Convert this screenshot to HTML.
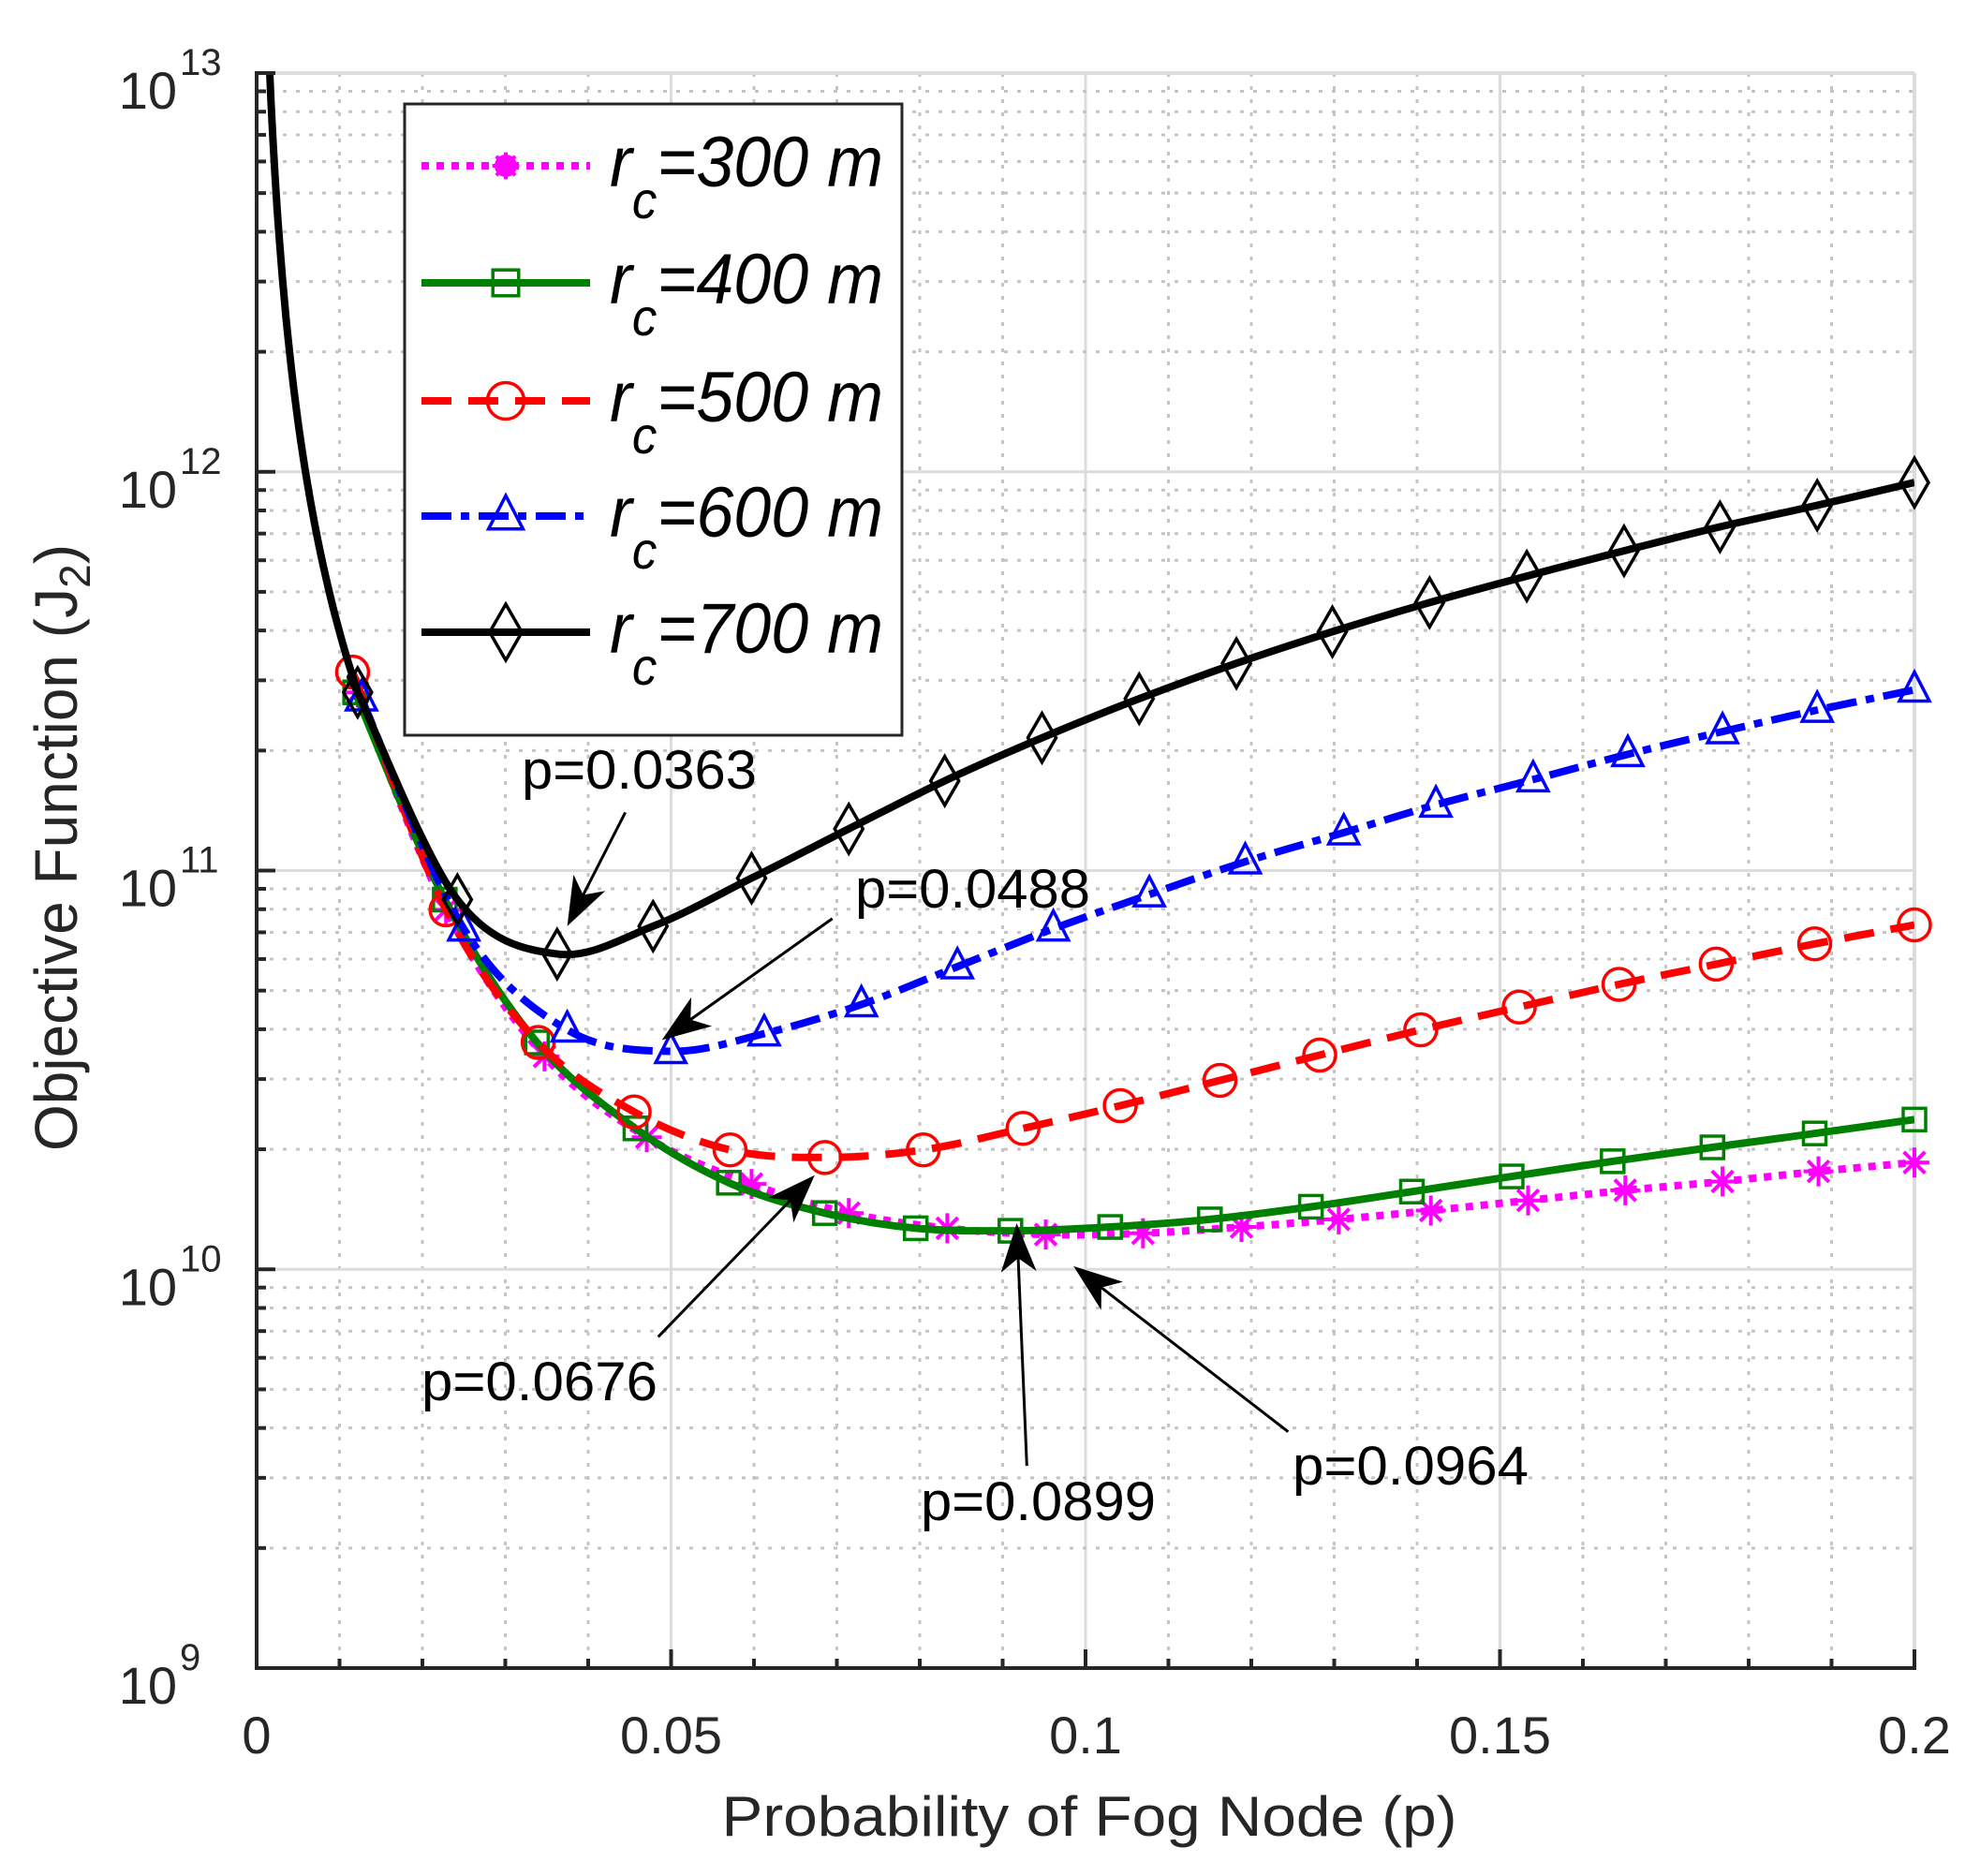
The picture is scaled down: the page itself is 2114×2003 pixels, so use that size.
<!DOCTYPE html>
<html><head><meta charset="utf-8">
<style>html,body{margin:0;padding:0;background:#fff;}svg{display:block;}</style>
</head><body>
<svg id="s" width="2114" height="2003" viewBox="0 0 2114 2003" xmlns="http://www.w3.org/2000/svg" font-family="Liberation Sans, Arial, sans-serif">
<rect width="2114" height="2003" fill="#fff"/>
<g id="grid"></g>
<g id="series"></g>
<g id="axes"></g>
<g id="annot" fill="#000" font-size="58">
<text x="557" y="842" textLength="251" lengthAdjust="spacingAndGlyphs">p=0.0363</text>
<text x="913" y="969" textLength="251" lengthAdjust="spacingAndGlyphs">p=0.0488</text>
<text x="450" y="1495" textLength="252" lengthAdjust="spacingAndGlyphs">p=0.0676</text>
<text x="983" y="1623" textLength="251" lengthAdjust="spacingAndGlyphs">p=0.0899</text>
<text x="1380" y="1585" textLength="252" lengthAdjust="spacingAndGlyphs">p=0.0964</text>
</g>
<g id="legend"></g>
</svg>
<script>
const NS="http://www.w3.org/2000/svg";
const L=274,R=2044,Tp=78,B=1781;
const dec=(B-Tp)/4;
function T(x,y){return [274+(x-203)*1770/1313, 78+(y-58)*1703/1262];}
function el(par,tag,attrs){const e=document.createElementNS(NS,tag);for(const k in attrs)e.setAttribute(k,attrs[k]);document.getElementById(par).appendChild(e);return e;}
function px(p){return L+p/0.2*(R-L);}
function py(lg){return Tp+(13-lg)*dec;}
for(let i=1;i<20;i++){const x=px(i*0.01);if(i%5==0)el('grid','line',{x1:x,x2:x,y1:Tp,y2:B,stroke:'#dcdcdc','stroke-width':3});else el('grid','line',{x1:x,x2:x,y1:Tp,y2:B,stroke:'#c4c4c4','stroke-width':3,'stroke-dasharray':'4 10'});}
for(let d=9;d<13;d++){for(let m=2;m<=9;m++){const y=py(d+Math.log10(m));el('grid','line',{x1:L,x2:R,y1:y,y2:y,stroke:'#c4c4c4','stroke-width':3,'stroke-dasharray':'4 10'});}
 if(d>9){const y=py(d);el('grid','line',{x1:L,x2:R,y1:y,y2:y,stroke:'#dcdcdc','stroke-width':3});}}
el('grid','line',{x1:L,x2:R,y1:Tp,y2:Tp,stroke:'#dcdcdc','stroke-width':4});
el('grid','line',{x1:R,x2:R,y1:Tp,y2:B,stroke:'#dcdcdc','stroke-width':4});
el('axes','line',{x1:L,x2:L,y1:Tp-2,y2:B+2,stroke:'#262626','stroke-width':4});
el('axes','line',{x1:L-2,x2:R+2,y1:B,y2:B,stroke:'#262626','stroke-width':4});
for(let i=1;i<=20;i++){const x=px(i*0.01);const len=(i%5==0)?20:10;el('axes','line',{x1:x,x2:x,y1:B,y2:B-len,stroke:'#262626','stroke-width':4});}
for(let d=9;d<13;d++){for(let m=1;m<=9;m++){const y=py(d+Math.log10(m));const len=m==1?20:10;if(m==1&&d==9)continue;el('axes','line',{x1:L,x2:L+len,y1:y,y2:y,stroke:'#262626','stroke-width':4});}}
el('axes','line',{x1:L,x2:L+20,y1:Tp,y2:Tp,stroke:'#262626','stroke-width':4});
const xl=[["0",0],["0.05",0.05],["0.1",0.1],["0.15",0.15],["0.2",0.2]];
xl.forEach(a=>{const t=el('axes','text',{x:px(a[1]),y:1872,'text-anchor':'middle','font-size':56,fill:'#262626'});t.textContent=a[0];});
for(let d=9;d<=13;d++){const y=py(d);const t=el('axes','text',{x:189,y:y+38,'text-anchor':'end','font-size':56,fill:'#262626'});t.textContent="10";
 const s=el('axes','text',{x:192,y:y+2,'text-anchor':'start','font-size':40,fill:'#262626'});s.textContent=String(d);}
{const t=el('axes','text',{x:1163,y:1960,'text-anchor':'middle','font-size':60,fill:'#262626',textLength:785,lengthAdjust:'spacingAndGlyphs'});t.textContent="Probability of Fog Node (p)";}
{const g=el('axes','g',{transform:'translate(82,905) rotate(-90)'});
 const t=document.createElementNS(NS,'text');t.setAttribute('text-anchor','middle');t.setAttribute('font-size',64);t.setAttribute('fill','#262626');
 t.innerHTML='Objective Function (J<tspan font-size="46" dy="14">2</tspan><tspan dy="-14">)</tspan>';g.appendChild(t);}
const D={
 k:[[283,548],[362,712],[441,755],[517,733],[595,695],[672,656],[748,618],[825,584],[902,553],[979,525],[1055,500],[1132,477],[1209,456],[1286,436],[1362,417],[1439,400],[1516,382]],
 b:[[286,553],[367,735],[449,815],[531,832],[605,818],[682,795],[758,765],[834,735],[910,708],[986,682],[1064,659],[1137,637],[1214,617],[1289,597],[1364,579],[1439,562],[1516,546]],
 r:[[279,532],[353,720],[426,825],[502,880],[578,910],[653,916],[731,910],[810,893],[887,875],[966,855],[1045,835],[1125,815],[1203,797],[1282,779],[1359,763],[1437,747],[1516,732]],
 g:[[281,548],[352,712],[425,825],[503,893],[577,936],[653,960],[725,972],[800,974],[879,971],[958,965],[1038,955],[1118,943],[1197,931],[1277,919],[1356,908],[1437,897],[1516,886]],
 m:[[283,548],[353,720],[431,836],[512,900],[595,937],[672,960],[750,972],[828,977],[905,976],[983,971],[1060,965],[1133,958],[1210,950],[1287,942],[1364,935],[1440,927],[1516,920]]
};
function steep(){const pts=[];for(let p=0.0014;p<0.0122;p*=1.12){const lg=11.447-1.75*Math.log10(p/0.0122);pts.push([203+p*6565,58+(13-lg)*315.5]);}return pts;}
function path(pts){pts=pts.map(p=>T(p[0],p[1]));let d="M"+pts[0][0].toFixed(1)+","+pts[0][1].toFixed(1);
 for(let i=0;i<pts.length-1;i++){const p0=pts[Math.max(0,i-1)],p1=pts[i],p2=pts[i+1],p3=pts[Math.min(pts.length-1,i+2)];
 const c1=[p1[0]+(p2[0]-p0[0])/6,p1[1]+(p2[1]-p0[1])/6],c2=[p2[0]-(p3[0]-p1[0])/6,p2[1]-(p3[1]-p1[1])/6];
 d+=" C"+c1.map(v=>v.toFixed(1))+" "+c2.map(v=>v.toFixed(1))+" "+p2.map(v=>v.toFixed(1));}return d;}
const clip=el('series','clipPath',{id:'cp'});const cr=document.createElementNS(NS,'rect');cr.setAttribute('x',L);cr.setAttribute('y',Tp);cr.setAttribute('width',R-L);cr.setAttribute('height',B-Tp);clip.appendChild(cr);
const sty={m:{c:'#ff00ff',da:'8 8'},g:{c:'#008000',da:''},r:{c:'#ff0000',da:'32 18'},b:{c:'#0000ff',da:'32 10 9 10'},k:{c:'#000',da:''}};
function marker(par,k,x,y,s){const c=sty[k].c;s=s||1;
 if(k=='m'){for(let a=0;a<4;a++){const an=a*Math.PI/4;el(par,'line',{x1:x-16*s*Math.cos(an),y1:y-16*s*Math.sin(an),x2:x+16*s*Math.cos(an),y2:y+16*s*Math.sin(an),stroke:c,'stroke-width':4});}}
 if(k=='g')el(par,'rect',{x:x-12*s,y:y-12*s,width:24*s,height:24*s,fill:'none',stroke:c,'stroke-width':3.5});
 if(k=='r')el(par,'circle',{cx:x,cy:y,r:17*s,fill:'none',stroke:c,'stroke-width':3.5});
 if(k=='b')el(par,'polygon',{points:`${x},${y-19*s} ${x+16*s},${y+12*s} ${x-16*s},${y+12*s}`,fill:'none',stroke:c,'stroke-width':3.5});
 if(k=='k')el(par,'polygon',{points:`${x},${y-26*s} ${x+15*s},${y} ${x},${y+26*s} ${x-15*s},${y}`,fill:'none',stroke:c,'stroke-width':3.5});}
['m','g','r','b','k'].forEach(k=>{const pts=(k=='k')?steep().concat(D[k]):D[k];
 el('series','path',{d:path(pts),fill:'none',stroke:sty[k].c,'stroke-width':8,'stroke-dasharray':sty[k].da,'clip-path':'url(#cp)'});
 D[k].forEach(p=>{const q=T(p[0],p[1]);marker('series',k,q[0],q[1]);});});
function arrow(x1,y1,x2,y2){const a=T(x1,y1),b=T(x2,y2);const dx=b[0]-a[0],dy=b[1]-a[1],l=Math.hypot(dx,dy),ux=dx/l,uy=dy/l;
 const hl=52,hw=19,bx=b[0]-ux*hl,by=b[1]-uy*hl,nx=-uy,ny=ux,ix=b[0]-ux*hl*0.72,iy=b[1]-uy*hl*0.72;
 el('annot','line',{x1:a[0],y1:a[1],x2:ix,y2:iy,stroke:'#000','stroke-width':3});
 el('annot','polygon',{points:`${b[0]},${b[1]} ${bx+nx*hw},${by+ny*hw} ${ix},${iy} ${bx-nx*hw},${by-ny*hw}`,fill:'#000'});}
arrow(495,643,449,733);arrow(659,727,524,823);arrow(521,1058,645,930);arrow(813,1160,805,968);arrow(1020,1133,850,1002);
el('legend','rect',{x:432,y:111,width:531,height:674,fill:'#fff',stroke:'#262626','stroke-width':3});
const ly=[177,302,428,551,675];const lab=['300','400','500','600','700'];
['m','g','r','b','k'].forEach((k,i)=>{const y=ly[i];
 el('legend','line',{x1:450,x2:630,y1:y,y2:y,stroke:sty[k].c,'stroke-width':8,'stroke-dasharray':sty[k].da});
 if(k=='m'){el('legend','circle',{cx:540,cy:y,r:12,fill:'#ff00ff'});marker('legend',k,540,y,0.9);} else marker('legend',k,540,y,1.15);
 const t=el('legend','text',{x:651,y:y+22,'font-size':76,'font-style':'italic',fill:'#000',textLength:292,lengthAdjust:'spacingAndGlyphs'});
 t.innerHTML='r<tspan font-size="56" dy="34">c</tspan><tspan dy="-34">='+lab[i]+' m</tspan>';});
</script>
</body></html>
